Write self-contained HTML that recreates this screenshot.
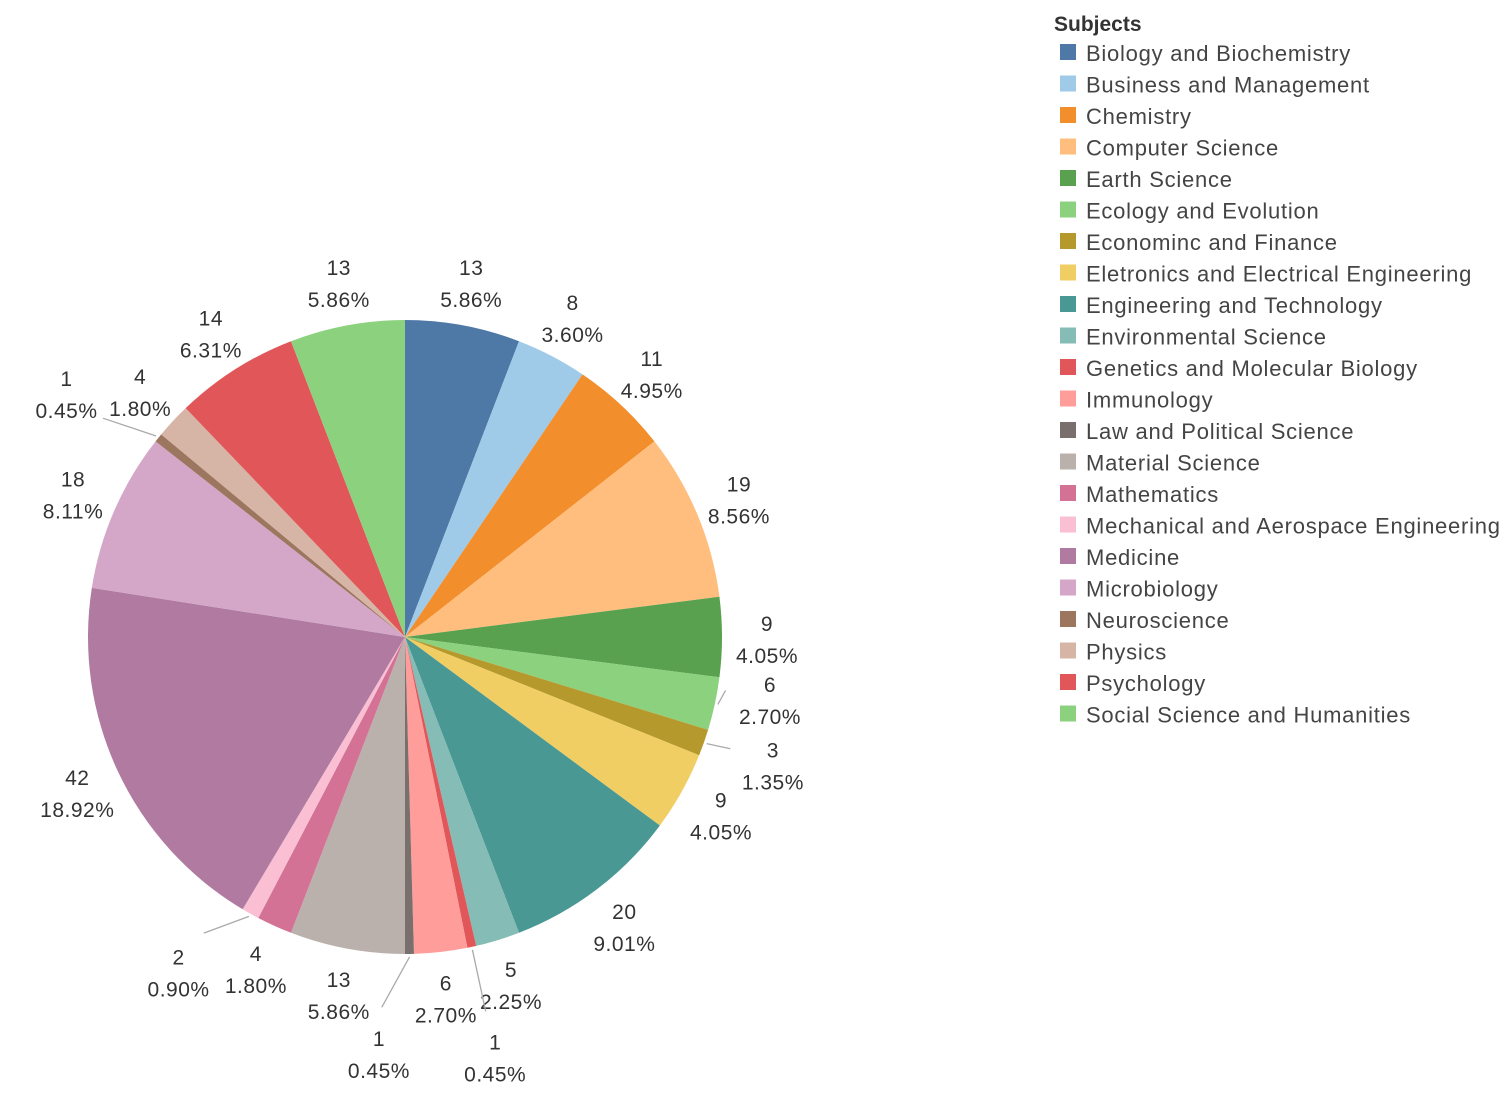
<!DOCTYPE html>
<html><head><meta charset="utf-8">
<style>
body{margin:0;background:#fff;width:1507px;height:1104px;overflow:hidden;font-family:"Liberation Sans",sans-serif;}
svg{position:absolute;left:0;top:0}
</style></head>
<body>
<svg id="chart" width="1507" height="1104"></svg>
<script>
const categories=["Biology and Biochemistry","Business and Management","Chemistry","Computer Science","Earth Science","Ecology and Evolution","Econominc and Finance","Eletronics and Electrical Engineering","Engineering and Technology","Environmental Science","Genetics and Molecular Biology","Immunology","Law and Political Science","Material Science","Mathematics","Mechanical and Aerospace Engineering","Medicine","Microbiology","Neuroscience","Physics","Psychology","Social Science and Humanities"];
const values=[13,8,11,19,9,6,3,9,20,5,1,6,1,13,4,2,42,18,1,4,14,13];
const colors=["#4e79a7","#a0cbe8","#f28e2b","#ffbe7d","#59a14f","#8cd17d","#b6992d","#f1ce63","#499894","#86bcb6","#e15759","#ff9d9a","#79706e","#bab0ac","#d37295","#fabfd2","#b07aa1","#d4a6c8","#9d7660","#d7b5a6","#e15759","#8cd17d"];
// label placement tweaks (style): [angle nudge deg, radius] for slices with leader lines
const labelTweak={5:[-2.7,370],6:[-0.5,389],10:[0,428],12:[4.4,416],15:[5,403],18:[-3,418]};
const NS="http://www.w3.org/2000/svg";
const svg=document.getElementById('chart');
const cx=405,cy=637,R=317;
const total=values.reduce((a,b)=>a+b,0);
function pt(angDeg,r){const a=angDeg*Math.PI/180;return [cx+r*Math.sin(a),cy-r*Math.cos(a)];}
let acc=0;
values.forEach((v,i)=>{
  const a0=acc/total*360,a1=(acc+v)/total*360;acc+=v;
  const p0=pt(a0,R),p1=pt(a1,R);
  const path=document.createElementNS(NS,'path');
  path.setAttribute('d',`M${cx},${cy}L${p0[0]},${p0[1]}A${R},${R} 0 ${a1-a0>180?1:0} 1 ${p1[0]},${p1[1]}Z`);
  path.setAttribute('fill',colors[i]);
  
  
  svg.appendChild(path);
  const mid=(a0+a1)/2;
  const tw=labelTweak[i];
  let la=mid,lr=362;
  if(tw){
    la=mid+tw[0];lr=tw[1];
    const l0=pt(mid,R+3),l1=pt(la,lr-45);
    const ln=document.createElementNS(NS,'line');
    ln.setAttribute('x1',l0[0]);ln.setAttribute('y1',l0[1]);ln.setAttribute('x2',l1[0]);ln.setAttribute('y2',l1[1]);
    ln.setAttribute('stroke','#aaa');ln.setAttribute('stroke-width','1.3');
    
    
    svg.appendChild(ln);
  }
  const lp=pt(la,lr);
  const t=document.createElementNS(NS,'text');
  t.setAttribute('x',lp[0]);t.setAttribute('y',lp[1]-6);
  t.setAttribute('text-anchor','middle');t.setAttribute('font-size','21');t.setAttribute('fill','#333');
  t.setAttribute('letter-spacing','0.5');
  
  
  const s1=document.createElementNS(NS,'tspan');s1.setAttribute('x',lp[0]);s1.textContent=v;
  const s2=document.createElementNS(NS,'tspan');s2.setAttribute('x',lp[0]);s2.setAttribute('dy','32');
  s2.textContent=(v/total*100).toFixed(2)+'%';
  t.appendChild(s1);t.appendChild(s2);svg.appendChild(t);
});
// legend
const lt=document.createElementNS(NS,'text');
lt.setAttribute('x',1054);lt.setAttribute('y',31);lt.setAttribute('font-size','21');lt.setAttribute('font-weight','bold');lt.setAttribute('fill','#333');
lt.textContent='Subjects';


svg.appendChild(lt);
categories.forEach((c,i)=>{
  const y=53+i*31.5;
  const r=document.createElementNS(NS,'rect');
  r.setAttribute('x',1060);r.setAttribute('y',y-9);r.setAttribute('width',16);r.setAttribute('height',16);r.setAttribute('fill',colors[i]);
  
  
  svg.appendChild(r);
  const t=document.createElementNS(NS,'text');
  t.setAttribute('x',1086);t.setAttribute('y',y+8);t.setAttribute('font-size','22');t.setAttribute('fill','#444');
  t.setAttribute('letter-spacing','0.75');
  t.textContent=c;
  
  
  svg.appendChild(t);
});
</script>
</body></html>
